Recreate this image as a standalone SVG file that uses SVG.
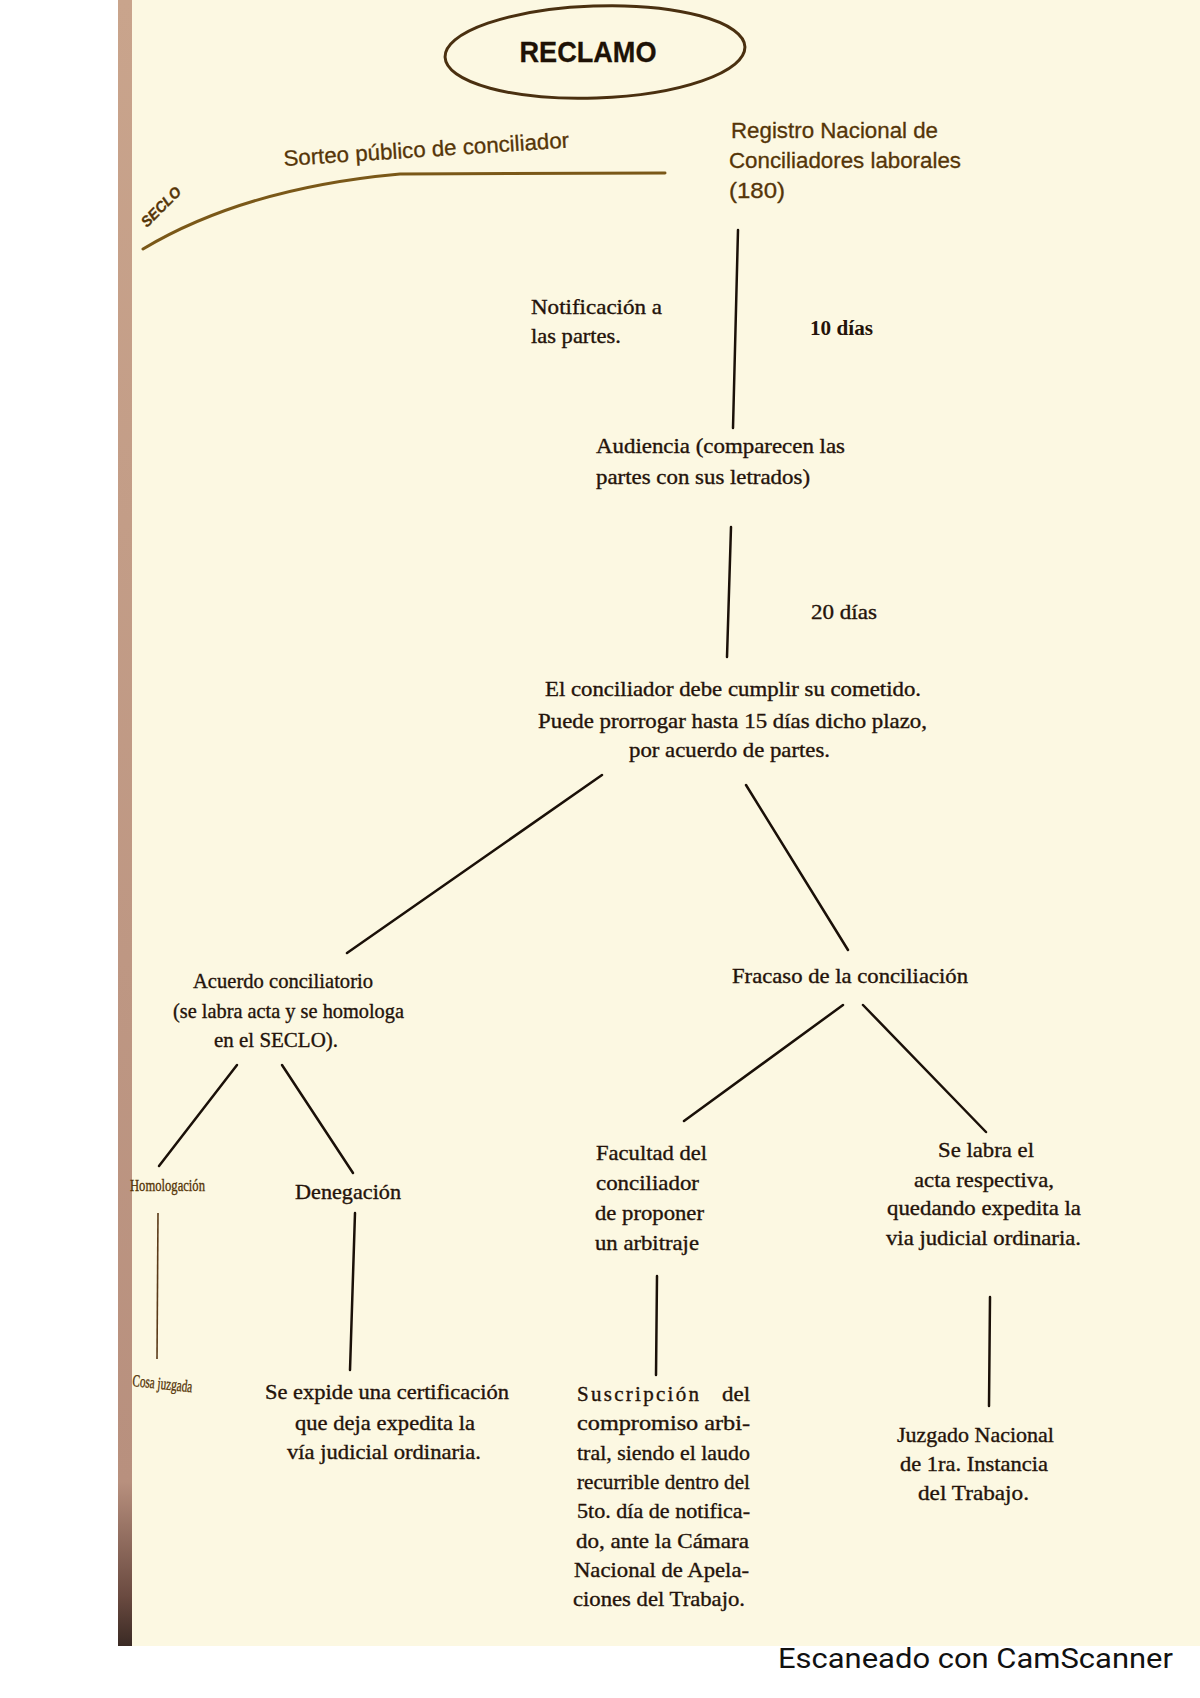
<svg xmlns="http://www.w3.org/2000/svg" width="1200" height="1698" viewBox="0 0 1200 1698">
<defs>
<linearGradient id="strip" x1="0" y1="0" x2="0" y2="1">
<stop offset="0" stop-color="#c9a48c"/>
<stop offset="0.9" stop-color="#b8907e"/>
<stop offset="0.97" stop-color="#6a4a40"/>
<stop offset="1" stop-color="#3a2a24"/>
</linearGradient>
<style>
.serif{font-family:"Liberation Serif","Times New Roman",serif;font-size:21px;fill:#24130a;stroke:#24130a;stroke-width:0.35;}
.sans{font-family:"Liberation Sans",Arial,sans-serif;fill:#553508;stroke:#553508;stroke-width:0.3;}
.ln{stroke:#1a1008;stroke-width:2.5;fill:none;stroke-linecap:round;}
.thin{stroke:#5a3a18;stroke-width:1.6;fill:none;}
</style>
</defs>
<rect x="0" y="0" width="1200" height="1698" fill="#ffffff"/>
<rect x="127" y="0" width="1073" height="1646" fill="#fcf8e2"/>
<rect x="118" y="0" width="14" height="1646" fill="url(#strip)"/>

<g id="connectors">
<path d="M143,249 Q245,188 400,174 L665,173" stroke="#7a5818" stroke-width="3" fill="none" stroke-linecap="round"/>
<line class="ln" x1="738" y1="230" x2="733" y2="428"/>
<line class="ln" x1="731" y1="527" x2="727" y2="657"/>
<line class="ln" x1="602" y1="775" x2="347" y2="953"/>
<line class="ln" x1="746" y1="785" x2="848" y2="950"/>
<line class="ln" x1="237" y1="1065" x2="159" y2="1166"/>
<line class="ln" x1="282" y1="1065" x2="353" y2="1173"/>
<line class="thin" x1="158" y1="1213" x2="157" y2="1359"/>
<line class="ln" x1="355" y1="1213" x2="350" y2="1370"/>
<line class="ln" x1="843" y1="1005" x2="684" y2="1121"/>
<line class="ln" x1="863" y1="1005" x2="986" y2="1132"/>
<line class="ln" x1="657" y1="1276" x2="656" y2="1375"/>
<line class="ln" x1="990" y1="1297" x2="989" y2="1406"/>
</g>

<g id="reclamo">
<ellipse cx="595" cy="52" rx="150" ry="46" transform="rotate(-2 595 52)" fill="none" stroke="#4a3010" stroke-width="3"/>
<text x="588" y="62" text-anchor="middle" class="sans" style="font-size:30px;font-weight:bold;fill:#1e1206;stroke:#1e1206" textLength="137" lengthAdjust="spacingAndGlyphs">RECLAMO</text>
</g>

<g id="sorteo">
<text x="284" y="166" class="sans" style="font-size:22px" transform="rotate(-3.7 284 166)" textLength="286" lengthAdjust="spacingAndGlyphs">Sorteo público de conciliador</text>
</g>

<g id="seclo">
<text x="147" y="228" class="sans" style="font-size:15px;font-style:italic;font-weight:bold" transform="rotate(-45 147 228)" textLength="50" lengthAdjust="spacingAndGlyphs">SECLO</text>
</g>

<g id="registro">
<text class="sans" style="font-size:22px">
<tspan x="731" y="138" textLength="207" lengthAdjust="spacingAndGlyphs">Registro Nacional de</tspan>
<tspan x="729" y="168" textLength="232" lengthAdjust="spacingAndGlyphs">Conciliadores laborales</tspan>
<tspan x="729" y="198" textLength="56" lengthAdjust="spacingAndGlyphs">(180)</tspan>
</text>
</g>

<g id="notificacion">
<text class="serif">
<tspan x="531" y="314" textLength="131" lengthAdjust="spacingAndGlyphs">Notificación a</tspan>
<tspan x="531" y="343" textLength="90" lengthAdjust="spacingAndGlyphs">las partes.</tspan>
</text>
</g>

<g id="dias10">
<text x="810" y="335" class="serif" style="font-weight:bold;stroke-width:0" textLength="63" lengthAdjust="spacingAndGlyphs">10 días</text>
</g>

<g id="audiencia">
<text class="serif">
<tspan x="596" y="453" textLength="249" lengthAdjust="spacingAndGlyphs">Audiencia (comparecen las</tspan>
<tspan x="596" y="484" textLength="214" lengthAdjust="spacingAndGlyphs">partes con sus letrados)</tspan>
</text>
</g>

<g id="dias20">
<text x="811" y="619" class="serif" textLength="66" lengthAdjust="spacingAndGlyphs">20 días</text>
</g>

<g id="conciliador">
<text class="serif">
<tspan x="545" y="696" textLength="376" lengthAdjust="spacingAndGlyphs">El conciliador debe cumplir su cometido.</tspan>
<tspan x="538" y="728" textLength="389" lengthAdjust="spacingAndGlyphs">Puede prorrogar hasta 15 días dicho plazo,</tspan>
<tspan x="629" y="757" textLength="201" lengthAdjust="spacingAndGlyphs">por acuerdo de partes.</tspan>
</text>
</g>

<g id="acuerdo">
<text class="serif">
<tspan x="193" y="988" textLength="180" lengthAdjust="spacingAndGlyphs">Acuerdo conciliatorio</tspan>
<tspan x="173" y="1018" textLength="231" lengthAdjust="spacingAndGlyphs">(se labra acta y se homologa</tspan>
<tspan x="214" y="1047" textLength="124" lengthAdjust="spacingAndGlyphs">en el SECLO).</tspan>
</text>
</g>

<g id="fracaso">
<text x="732" y="983" class="serif" textLength="236" lengthAdjust="spacingAndGlyphs">Fracaso de la conciliación</text>
</g>

<g id="homologacion">
<text x="130" y="1191" class="serif" style="font-size:17px;fill:#553508;stroke:#553508" textLength="75" lengthAdjust="spacingAndGlyphs">Homologación</text>
</g>

<g id="denegacion">
<text x="295" y="1199" class="serif" textLength="106" lengthAdjust="spacingAndGlyphs">Denegación</text>
</g>

<g id="cosajuzgada">
<text x="132" y="1386" class="serif" style="font-size:17px;fill:#553508;stroke:#553508" transform="rotate(6 132 1386)" textLength="60" lengthAdjust="spacingAndGlyphs">Cosa juzgada</text>
</g>

<g id="certificacion">
<text class="serif">
<tspan x="265" y="1399" textLength="244" lengthAdjust="spacingAndGlyphs">Se expide una certificación</tspan>
<tspan x="295" y="1430" textLength="180" lengthAdjust="spacingAndGlyphs">que deja expedita la</tspan>
<tspan x="287" y="1459" textLength="194" lengthAdjust="spacingAndGlyphs">vía judicial ordinaria.</tspan>
</text>
</g>

<g id="facultad">
<text class="serif">
<tspan x="596" y="1160" textLength="111" lengthAdjust="spacingAndGlyphs">Facultad del</tspan>
<tspan x="596" y="1190" textLength="103" lengthAdjust="spacingAndGlyphs">conciliador</tspan>
<tspan x="595" y="1220" textLength="109" lengthAdjust="spacingAndGlyphs">de proponer</tspan>
<tspan x="595" y="1250" textLength="104" lengthAdjust="spacingAndGlyphs">un arbitraje</tspan>
</text>
</g>

<g id="selabra">
<text class="serif">
<tspan x="938" y="1157" textLength="96" lengthAdjust="spacingAndGlyphs">Se labra el</tspan>
<tspan x="914" y="1187" textLength="140" lengthAdjust="spacingAndGlyphs">acta respectiva,</tspan>
<tspan x="887" y="1215" textLength="194" lengthAdjust="spacingAndGlyphs">quedando expedita la</tspan>
<tspan x="886" y="1245" textLength="195" lengthAdjust="spacingAndGlyphs">via judicial ordinaria.</tspan>
</text>
</g>

<g id="suscripcion">
<text class="serif">
<tspan x="577" y="1401" textLength="122" lengthAdjust="spacing">Suscripción</tspan>
<tspan x="722" y="1401" textLength="28" lengthAdjust="spacingAndGlyphs">del</tspan>
<tspan x="577" y="1430" textLength="173" lengthAdjust="spacingAndGlyphs">compromiso arbi-</tspan>
<tspan x="577" y="1460" textLength="173" lengthAdjust="spacingAndGlyphs">tral, siendo el laudo</tspan>
<tspan x="577" y="1489" textLength="173" lengthAdjust="spacingAndGlyphs">recurrible dentro del</tspan>
<tspan x="577" y="1518" textLength="173" lengthAdjust="spacingAndGlyphs">5to. día de notifica-</tspan>
<tspan x="576" y="1548" textLength="173" lengthAdjust="spacingAndGlyphs">do, ante la Cámara</tspan>
<tspan x="574" y="1577" textLength="175" lengthAdjust="spacingAndGlyphs">Nacional de Apela-</tspan>
<tspan x="573" y="1606" textLength="172" lengthAdjust="spacingAndGlyphs">ciones del Trabajo.</tspan>
</text>
</g>

<g id="juzgado">
<text class="serif">
<tspan x="897" y="1442" textLength="157" lengthAdjust="spacingAndGlyphs">Juzgado Nacional</tspan>
<tspan x="900" y="1471" textLength="148" lengthAdjust="spacingAndGlyphs">de 1ra. Instancia</tspan>
<tspan x="918" y="1500" textLength="111" lengthAdjust="spacingAndGlyphs">del  Trabajo.</tspan>
</text>
</g>

<g id="watermark">
<text x="778" y="1668" style="font-family:Roboto,'Liberation Sans',sans-serif;font-size:27px;fill:#111111" textLength="395" lengthAdjust="spacingAndGlyphs">Escaneado con CamScanner</text>
</g>
</svg>
